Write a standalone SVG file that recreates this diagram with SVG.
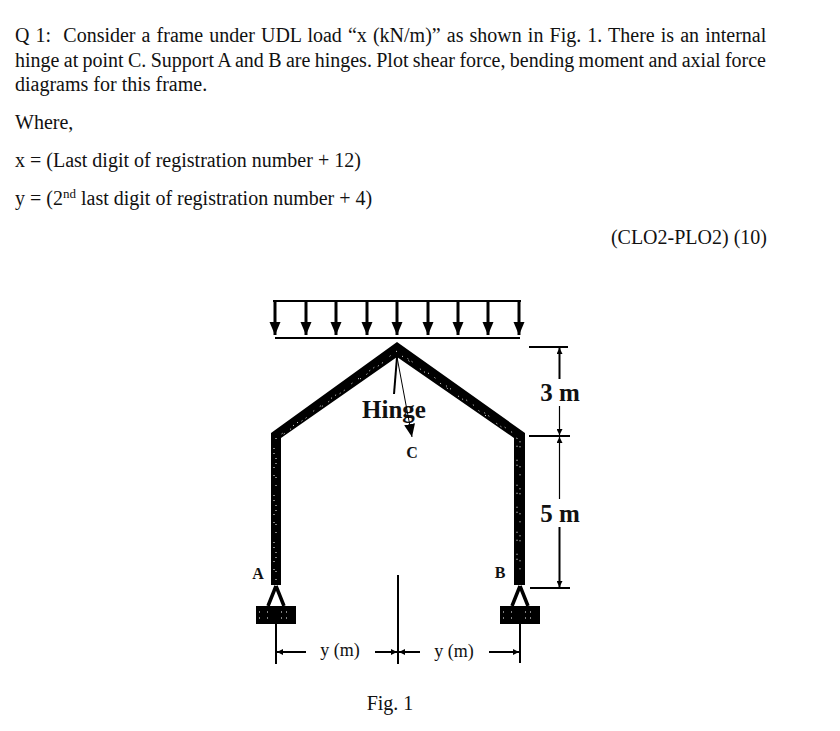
<svg xmlns="http://www.w3.org/2000/svg" width="840" height="731" viewBox="0 0 840 731">
<defs>
<marker id="ah" markerUnits="userSpaceOnUse" markerWidth="14" markerHeight="12" refX="13" refY="6" orient="auto"><path d="M0,0.5 L13,6 L0,11.500 Z" fill="#000"/></marker>
<marker id="sm" markerUnits="userSpaceOnUse" markerWidth="7" markerHeight="6" refX="6" refY="3" orient="auto"><path d="M0,0 L6,3 L0,6 Z" fill="#000"/></marker>
</defs>
<style>
.t{font-family:"Liberation Serif","Times New Roman",serif;font-size:20px;fill:#111}
.y{font-size:18px}
.b{font-family:"Liberation Serif","Times New Roman",serif;font-weight:bold;fill:#111}
.l{stroke:#000;fill:none;stroke-width:2}
.f{stroke:#000;fill:none;stroke-width:3.5}
.s{stroke:#fff;fill:none;stroke-width:1;stroke-dasharray:1 7 1 13 1 4 1 19}
.g{fill:#000}
</style>
<rect width="840" height="731" fill="#fff"/>
<g id="question">
<text class="t" x="15" y="42" xml:space="preserve" style="word-spacing:1.1px">Q 1:  Consider a frame under UDL load “x (kN/m)” as shown in Fig. 1. There is an internal</text>
<text class="t" x="15" y="67" style="word-spacing:-0.65px">hinge at point C. Support A and B are hinges. Plot shear force, bending moment and axial force</text>
<text class="t" x="15" y="91">diagrams for this frame.</text>
<text class="t" x="15" y="129">Where,</text>
<text class="t" x="15" y="167">x = (Last digit of registration number + 12)</text>
<text class="t" x="15" y="205">y = (2<tspan font-size="13" dy="-7">nd</tspan><tspan dy="7"> last digit of registration number + 4)</tspan></text>
<text class="t" x="767" y="244" text-anchor="end">(CLO2-PLO2) (10)</text>
<text class="t" x="390" y="710" text-anchor="middle">Fig. 1</text>
</g>
<g id="load">
<path class="l" d="M273,301 H521 M275,338 H520"/>
<g stroke="#000" stroke-width="3">
<line x1="275" y1="301" x2="275" y2="335" marker-end="url(#ah)"/>
<line x1="306" y1="301" x2="306" y2="335" marker-end="url(#ah)"/>
<line x1="336" y1="301" x2="336" y2="335" marker-end="url(#ah)"/>
<line x1="367" y1="301" x2="367" y2="335" marker-end="url(#ah)"/>
<line x1="397" y1="301" x2="397" y2="335" marker-end="url(#ah)"/>
<line x1="428" y1="301" x2="428" y2="335" marker-end="url(#ah)"/>
<line x1="458" y1="301" x2="458" y2="335" marker-end="url(#ah)"/>
<line x1="488" y1="301" x2="488" y2="335" marker-end="url(#ah)"/>
<line x1="519" y1="301" x2="519" y2="335" marker-end="url(#ah)"/>
</g>
</g>
<g id="frame">
<polygon class="g" points="271,433 397,342 525,433 525,585 514,585 514,438 397,357 281,438 281,585 271,585"/>
<path class="s" d="M276,580 V438 L397,351 L520,438 V580"/>
<path class="s" d="M274,570 V441 L392,356 M402,356 L517,438 V575"/>
</g>
<g id="hinge-c">
<text class="b" x="394" y="418" text-anchor="middle" font-size="25">Hinge</text>
<text class="b" x="412" y="458" text-anchor="middle" font-size="16">C</text>
</g>
<g id="support-a">
<text class="b" x="258" y="579" text-anchor="middle" font-size="16">A</text>
<path class="f" d="M276,586 L268,606 M276,586 L284,606"/>
<rect class="g" x="256" y="606" width="40" height="18"/>
<path class="s" d="M259,612 H293 M259,618 H293"/>
</g>
<g id="support-b">
<text class="b" x="500" y="578" text-anchor="middle" font-size="16">B</text>
<path class="f" d="M520,586 L512,606 M520,586 L528,606"/>
<rect class="g" x="500" y="606" width="40" height="18"/>
<path class="s" d="M503,612 H537 M503,618 H537"/>
</g>
<g id="connectors">
<path class="l" stroke-width="1.500" d="M397,357 L394,394"/>
<line x1="397" y1="357" x2="412" y2="437" stroke="#000" stroke-width="1" marker-end="url(#ah)"/>
<path class="l" d="M529,347 H568 M529,436 H570 M530,588 H570"/>
<line class="l" x1="559.500" y1="379" x2="559.500" y2="348" marker-end="url(#sm)"/>
<line x1="559.500" y1="406" x2="559.500" y2="435" stroke="#000" stroke-width="1.200" marker-end="url(#sm)"/>
<line x1="559.500" y1="499" x2="559.500" y2="437" stroke="#000" stroke-width="1.200" marker-end="url(#sm)"/>
<line class="l" x1="559.500" y1="527" x2="559.500" y2="587" marker-end="url(#sm)"/>
<path class="l" d="M276,624 V664 M398,575 V664 M520,624 V663"/>
<line class="l" x1="306" y1="652" x2="277" y2="652" marker-end="url(#sm)"/>
<line class="l" x1="375" y1="652" x2="397" y2="652" marker-end="url(#sm)"/>
<line class="l" x1="420" y1="652" x2="399" y2="652" marker-end="url(#sm)"/>
<line class="l" x1="489" y1="652" x2="519" y2="652" marker-end="url(#sm)"/>
</g>
<g id="labels">
<text class="b" x="560" y="401" text-anchor="middle" font-size="25">3 m</text>
<text class="b" x="560" y="522" text-anchor="middle" font-size="25">5 m</text>
<text class="t y" x="340" y="656" text-anchor="middle">y (m)</text>
<text class="t y" x="454" y="657" text-anchor="middle">y (m)</text>
</g>
</svg>
